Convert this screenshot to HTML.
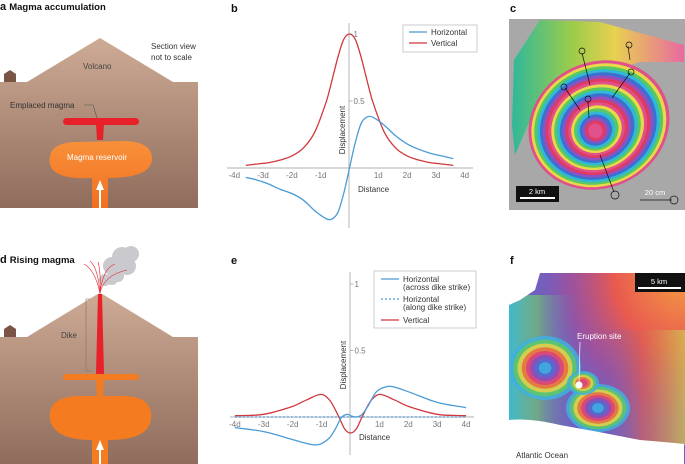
<!DOCTYPE html>
<html><head><meta charset="utf-8">
<style>
html,body{margin:0;padding:0;background:#fff;}
body{width:685px;height:464px;overflow:hidden;position:relative;font-family:"Liberation Sans",sans-serif;}
svg{position:absolute;left:0;top:0;}
</style></head>
<body>
<svg width="685" height="464" viewBox="0 0 685 464" xmlns="http://www.w3.org/2000/svg" font-family="Liberation Sans, sans-serif">
<defs>
<linearGradient id="gA" x1="0" y1="0" x2="0" y2="1"><stop offset="0" stop-color="#cdab95"/><stop offset="1" stop-color="#8f6c5c"/></linearGradient>
<linearGradient id="gD" x1="0" y1="0" x2="0" y2="1"><stop offset="0" stop-color="#cdab95"/><stop offset="1" stop-color="#8f6c5c"/></linearGradient>
<linearGradient id="gR" x1="0" y1="0" x2="0" y2="1"><stop offset="0" stop-color="#f8903a"/><stop offset="1" stop-color="#f07020"/></linearGradient>
<linearGradient id="gTop" x1="0" y1="0" x2="1" y2="0"><stop offset="0" stop-color="#2fb89a"/><stop offset="0.35" stop-color="#9ccc4a"/><stop offset="0.6" stop-color="#e8d050"/><stop offset="1" stop-color="#e86aa0"/></linearGradient>
<radialGradient id="gFtr" cx="1" cy="0" r="0.9"><stop offset="0" stop-color="#f5a040"/><stop offset="0.45" stop-color="#e85a50"/><stop offset="0.75" stop-color="#b04a90" stop-opacity="0.6"/><stop offset="1" stop-color="#7060c0" stop-opacity="0"/></radialGradient>
<linearGradient id="gFl" x1="0" y1="0" x2="1" y2="0"><stop offset="0" stop-color="#40b8d0"/><stop offset="0.4" stop-color="#70c870" stop-opacity="0.7"/><stop offset="1" stop-color="#7060c0" stop-opacity="0"/></linearGradient>
<linearGradient id="gFr" x1="0" y1="0" x2="1" y2="0"><stop offset="0" stop-color="#7060c0" stop-opacity="0"/><stop offset="0.5" stop-color="#e06050" stop-opacity="0.8"/><stop offset="1" stop-color="#d0c050"/></linearGradient>
</defs>

<!-- Panel a -->
<g>
<text x="0" y="10" font-size="11" font-weight="bold" fill="#111">a <tspan font-size="9.5">Magma accumulation</tspan></text>
<path d="M0,82 L27,82 L95,41 L100,38 L105,41 L173,82 L198,82 L198,208 L0,208 Z" fill="url(#gA)"/>
<rect x="4" y="74" width="12" height="8" fill="#7a5545"/>
<path d="M4,74 L10,70 L16,74 Z" fill="#7a5545"/>
<text x="83" y="69" font-size="8" fill="#444">Volcano</text>
<text x="151" y="49" font-size="8" fill="#333">Section view</text>
<text x="151" y="60" font-size="8" fill="#333">not to scale</text>
<text x="10" y="108" font-size="8" fill="#333">Emplaced magma</text>
<path d="M84,105 L93,105 L97,118" stroke="#555" stroke-width="0.6" fill="none"/>
<rect x="63" y="118" width="76" height="7" rx="3.5" fill="#e8202a"/>
<path d="M96,124 L104,124 L103,140 L97,140 Z" fill="#e8202a"/>
<path d="M92,208 L92,178 Q55,180 50,165 Q46,143 75,142 L125,141 Q153,142 152,160 Q150,178 108,178 L108,208 Z" fill="url(#gR)"/>
<text x="67" y="160" font-size="8" fill="#fff">Magma reservoir</text>
<path d="M100,180 L96,190 L99,190 L99,208 L101,208 L101,190 L104,190 Z" fill="#fff"/>
</g>

<!-- Panel d -->
<g>
<text x="0" y="263" font-size="11" font-weight="bold" fill="#111">d <tspan font-size="9.5">Rising magma</tspan></text>
<g fill="#c9c9ce">
<circle cx="112" cy="266" r="9"/><circle cx="122" cy="257" r="10"/><circle cx="131" cy="254" r="8"/><circle cx="127" cy="266" r="9"/><circle cx="105" cy="280" r="6"/><circle cx="112" cy="279" r="6"/><circle cx="118" cy="276" r="6"/>
</g>
<path d="M0,337 L27,337 L96,295 L100,293 L104,295 L173,337 L198,337 L198,464 L0,464 Z" fill="url(#gD)"/>
<rect x="4" y="329" width="12" height="8" fill="#7a5545"/>
<path d="M4,329 L10,325 L16,329 Z" fill="#7a5545"/>
<g stroke="#e8202a" stroke-width="0.6" fill="none">
<path d="M100,293 Q95,270 84,264"/><path d="M100,293 Q98,268 90,261"/><path d="M100,293 Q103,268 115,264"/><path d="M100,293 Q104,275 127,270"/><path d="M100,293 Q101,272 98,262"/>
</g>
<path d="M98,294 L102,294 L104,374 L96,374 Z" fill="#e8202a"/>
<path d="M90,299 L86,299 L86,371 L93,371" stroke="#777" stroke-width="0.6" fill="none"/>
<text x="61" y="338" font-size="8" fill="#444">Dike</text>
<rect x="63" y="374" width="76" height="6" rx="3" fill="#f47b20"/>
<path d="M96,379 L104,379 L103,396 L97,396 Z" fill="#f47b20"/>
<path d="M92,464 L92,440 Q55,440 50,420 Q47,397 78,396 L124,396 Q153,397 151,418 Q150,440 108,440 L108,464 Z" fill="#f47b20"/>
<path d="M100,440 L96,450 L99,450 L99,464 L101,464 L101,450 L104,450 Z" fill="#fff"/>
</g>

<!-- Panel b -->
<g id="chartB">
<text x="231" y="12" font-size="11" font-weight="bold" fill="#111">b</text>
<line x1="227" y1="168" x2="473" y2="168" stroke="#999" stroke-width="0.7"/>
<line x1="349" y1="23" x2="349" y2="228" stroke="#999" stroke-width="0.7"/>
<text x="345" y="130" font-size="8" fill="#333" text-anchor="middle" transform="rotate(-90 345 130)">Displacement</text>
<text x="358" y="192" font-size="8" fill="#333">Distance</text>
<rect x="403" y="25" width="74" height="27" fill="#fff" stroke="#aaa" stroke-width="0.6"/>
<line x1="409" y1="32" x2="427" y2="32" stroke="#4a9bd6" stroke-width="1.3"/>
<text x="431" y="35" font-size="8" fill="#333">Horizontal</text>
<line x1="409" y1="43" x2="427" y2="43" stroke="#d0383e" stroke-width="1.3"/>
<text x="431" y="46" font-size="8" fill="#333">Vertical</text>
</g>

<!-- Panel e -->
<g id="chartE">
<text x="231" y="264" font-size="11" font-weight="bold" fill="#111">e</text>
<line x1="230" y1="417" x2="474" y2="417" stroke="#999" stroke-width="0.7"/>
<line x1="350" y1="272" x2="350" y2="455" stroke="#999" stroke-width="0.7"/>
<text x="346" y="365" font-size="8" fill="#333" text-anchor="middle" transform="rotate(-90 346 365)">Displacement</text>
<text x="359" y="440" font-size="8" fill="#333">Distance</text>
<rect x="374" y="271" width="102" height="57" fill="#fff" stroke="#aaa" stroke-width="0.6"/>
<line x1="381" y1="279" x2="399" y2="279" stroke="#4a9bd6" stroke-width="1.3"/>
<text x="403" y="282" font-size="8" fill="#333">Horizontal</text>
<text x="403" y="290" font-size="8" fill="#333">(across dike strike)</text>
<line x1="381" y1="299" x2="399" y2="299" stroke="#4a9bd6" stroke-width="1.3" stroke-dasharray="2,2"/>
<text x="403" y="302" font-size="8" fill="#333">Horizontal</text>
<text x="403" y="310" font-size="8" fill="#333">(along dike strike)</text>
<line x1="381" y1="320" x2="399" y2="320" stroke="#d0383e" stroke-width="1.3"/>
<text x="403" y="323" font-size="8" fill="#333">Vertical</text>
</g>

<!-- Panel c -->
<g>
<text x="510" y="12" font-size="11" font-weight="bold" fill="#111">c</text>
<rect x="509" y="19" width="176" height="191" fill="#a8a8a8"/>
<path d="M540,20 L600,22 L684,45 L684,62 L640,62 L620,68 L585,70 L560,85 L545,105 L530,120 L515,155 L512,125 L514,60 Z" fill="url(#gTop)"/>
<g id="fringes" transform="rotate(-25 599 125)"></g>
<g stroke="#111" stroke-width="0.7" fill="none">
<line x1="590" y1="85" x2="582" y2="53"/><circle cx="582" cy="51" r="3"/>
<line x1="612" y1="98" x2="630" y2="73"/><circle cx="631" cy="72" r="3"/>
<line x1="580" y1="110" x2="565" y2="88"/><circle cx="564" cy="87" r="3"/>
<line x1="589" y1="118" x2="588" y2="101"/><circle cx="588" cy="99" r="3"/>
<line x1="630" y1="60" x2="628" y2="46"/><circle cx="629" cy="45" r="3"/>
<line x1="600" y1="155" x2="614" y2="192"/><circle cx="615" cy="195" r="4"/>
<line x1="640" y1="200" x2="672" y2="200"/><circle cx="674" cy="200" r="4"/>
</g>
<rect x="516" y="186" width="43" height="16" fill="#111"/>
<text x="537" y="194" font-size="7.5" fill="#fff" text-anchor="middle">2 km</text>
<rect x="520" y="197" width="35" height="2" fill="#fff"/>
<text x="655" y="195" font-size="7.5" fill="#fff" text-anchor="middle">20 cm</text>
</g>

<!-- Panel f -->
<g>
<text x="510" y="264" font-size="11" font-weight="bold" fill="#111">f</text>
<rect x="509" y="273" width="176" height="191" fill="#7060c0"/>
<rect x="509" y="273" width="176" height="191" fill="url(#gFtr)"/>
<rect x="509" y="295" width="70" height="150" fill="url(#gFl)"/>
<rect x="600" y="330" width="85" height="115" fill="url(#gFr)" opacity="0.8"/>
<g id="ringsF"></g>
<path d="M509,420 Q530,418 560,425 Q600,432 640,440 Q665,442 684,444 L684,464 L509,464 Z" fill="#fff"/>
<path d="M509,273 L540,273 L535,290 L520,300 L509,305 Z" fill="#fff"/>
<rect x="635" y="273" width="50" height="19" fill="#111"/>
<text x="659" y="284" font-size="7.5" fill="#fff" text-anchor="middle">5 km</text>
<rect x="638" y="287" width="43" height="2" fill="#fff"/>
<text x="577" y="339" font-size="8" fill="#fff">Eruption site</text>
<line x1="580" y1="342" x2="579" y2="383" stroke="#fff" stroke-width="0.7"/>
<circle cx="579" cy="385" r="3.5" fill="#fff"/>
<text x="516" y="458" font-size="8" fill="#333">Atlantic Ocean</text>
</g>
</svg>

<script>
const NS = 'http://www.w3.org/2000/svg';
// Panel b data
const bX = [-3.6,-3.2,-2.8,-2.4,-2.0,-1.6,-1.2,-0.8,-0.6,-0.4,-0.2,0,0.2,0.4,0.6,0.8,1.2,1.6,2.0,2.4,2.8,3.2,3.6];
const bVertical = [0.02,0.03,0.04,0.06,0.09,0.15,0.27,0.50,0.66,0.83,0.96,1.0,0.96,0.83,0.66,0.50,0.27,0.15,0.09,0.06,0.04,0.03,0.02];
const bHorizontal = [-0.07,-0.09,-0.12,-0.16,-0.19,-0.24,-0.32,-0.38,-0.38,-0.33,-0.19,0,0.19,0.33,0.38,0.38,0.32,0.24,0.18,0.14,0.11,0.09,0.07];
const bTicks = ['-4d','-3d','-2d','-1d','','1d','2d','3d','4d'];
const bTickVals = [-4,-3,-2,-1,0,1,2,3,4];
const bYTicks = [0.5, 1];
// Panel e data
const eX = [-4,-3,-2,-1.5,-1.2,-1,-0.7,-0.5,-0.3,-0.1,0,0.2,0.4,0.6,0.9,1.3,1.6,2,3,4];
const eHorizontalAcross = [-0.08,-0.11,-0.17,-0.2,-0.21,-0.2,-0.15,-0.08,0,0.02,0.01,0,0.02,0.08,0.19,0.23,0.22,0.19,0.11,0.07];
const eX2 = [-4,-3,-2,-1.5,-1,-0.7,-0.4,-0.2,0,0.2,0.4,0.7,1,1.5,2,3,4];
const eVertical = [0.01,0.02,0.08,0.13,0.17,0.12,0,-0.09,-0.12,-0.09,0,0.12,0.17,0.13,0.08,0.02,0.01];
const eAlongX = [-4,4];
const eHorizontalAlong = [0,0];
const eYTicks = [0.5, 1];

function smoothPath(xs, ys, sx, sy){
  const n = xs.length;
  const m = xs.map((x,i)=>{
    const a = Math.max(0,i-1), b = Math.min(n-1,i+1);
    return (ys[b]-ys[a])/(xs[b]-xs[a]);
  });
  let d = 'M' + sx(xs[0]).toFixed(1) + ',' + sy(ys[0]).toFixed(1);
  for (let i = 0; i < n-1; i++) {
    const h = xs[i+1]-xs[i];
    const c1x = xs[i]+h/3, c1y = ys[i]+m[i]*h/3;
    const c2x = xs[i+1]-h/3, c2y = ys[i+1]-m[i+1]*h/3;
    d += ' C'+sx(c1x).toFixed(1)+','+sy(c1y).toFixed(1)+' '+sx(c2x).toFixed(1)+','+sy(c2y).toFixed(1)+' '+sx(xs[i+1]).toFixed(1)+','+sy(ys[i+1]).toFixed(1);
  }
  return d;
}
function drawChart(gid, cx, cy, dx, dy){
  const g = document.getElementById(gid);
  const sx = v => cx + v*dx, sy = v => cy - v*dy;
  return {g, sx, sy, line(xs, ys, color, name, dash){
    const p = document.createElementNS(NS,'path');
    p.setAttribute('d', smoothPath(xs, ys, sx, sy));
    p.setAttribute('stroke', color); p.setAttribute('stroke-width','1.3'); p.setAttribute('fill','none');
    if (dash) p.setAttribute('stroke-dasharray', dash);
    
    
    g.appendChild(p);
  }, ticks(vals, labels, yt){
    vals.forEach((v,i)=>{
      if(!labels[i]) return;
      const t = document.createElementNS(NS,'text');
      t.setAttribute('x', sx(v)); t.setAttribute('y', cy + 10);
      t.setAttribute('font-size','8'); t.setAttribute('fill','#777'); t.setAttribute('text-anchor','middle');
      t.textContent = labels[i];
      
      
      g.appendChild(t);
    });
    yt.forEach(v=>{
      const l = document.createElementNS(NS,'line');
      l.setAttribute('x1', cx); l.setAttribute('x2', cx+3); l.setAttribute('y1', sy(v)); l.setAttribute('y2', sy(v));
      l.setAttribute('stroke','#999'); l.setAttribute('stroke-width','0.7');
      g.appendChild(l);
      const t = document.createElementNS(NS,'text');
      t.setAttribute('x', cx+4); t.setAttribute('y', sy(v)+3);
      t.setAttribute('font-size','8'); t.setAttribute('fill','#777');
      t.textContent = String(v);
      
      
      g.appendChild(t);
    });
  }};
}
const B = drawChart('chartB', 349.5, 168, 28.8, 134);
B.ticks(bTickVals, bTicks, bYTicks);
B.line(bX, bVertical, '#d0383e', 'vertical-displacement-line-b');
B.line(bX, bHorizontal, '#4a9bd6', 'horizontal-displacement-line-b');
const E = drawChart('chartE', 350.5, 417, 28.9, 133);
E.ticks(bTickVals, bTicks, eYTicks);
E.line(eX2, eVertical, '#d0383e', 'vertical-displacement-line-e');
E.line(eX, eHorizontalAcross, '#4a9bd6', 'horizontal-across-line-e');
E.line(eAlongX, eHorizontalAlong, '#4a9bd6', 'horizontal-along-line-e', '2,2');

// Panel c fringes
const fringeColors = ['#e0508a','#e8d84a','#58c860','#30b8d8','#3c70d0','#9050c0','#e03a60'];
(function(){
  const g = document.getElementById('fringes');
  const n = 22;
  for (let i = 0; i < n; i++) {
    const e = document.createElementNS(NS,'ellipse');
    const f = 1 - i/n;
    e.setAttribute('cx', 599 - 6*(1-f)); e.setAttribute('cy', 125 + 4*(1-f));
    e.setAttribute('rx', 68*f + 4); e.setAttribute('ry', 58*f + 5);
    e.setAttribute('fill', fringeColors[i % fringeColors.length]);
    g.appendChild(e);
  }
})();
// Panel f rings
(function(){
  const g = document.getElementById('ringsF');
  const sets = [[545,368,34,30,8],[598,408,30,22,8],[583,383,14,10,5]];
  const cols = ['#40b0e0','#60c860','#e8d04a','#e86a40','#d84080','#8050c0','#4a70d0'];
  sets.forEach(s=>{
    for (let i=0;i<s[4];i++){
      const e = document.createElementNS(NS,'ellipse');
      const f = 1 - i/s[4];
      e.setAttribute('cx', s[0]); e.setAttribute('cy', s[1]);
      e.setAttribute('rx', s[2]*f+2); e.setAttribute('ry', s[3]*f+2);
      e.setAttribute('fill', cols[i % cols.length]);
      e.setAttribute('opacity','0.85');
      g.appendChild(e);
    }
  });
})();
</script>
</body></html>
